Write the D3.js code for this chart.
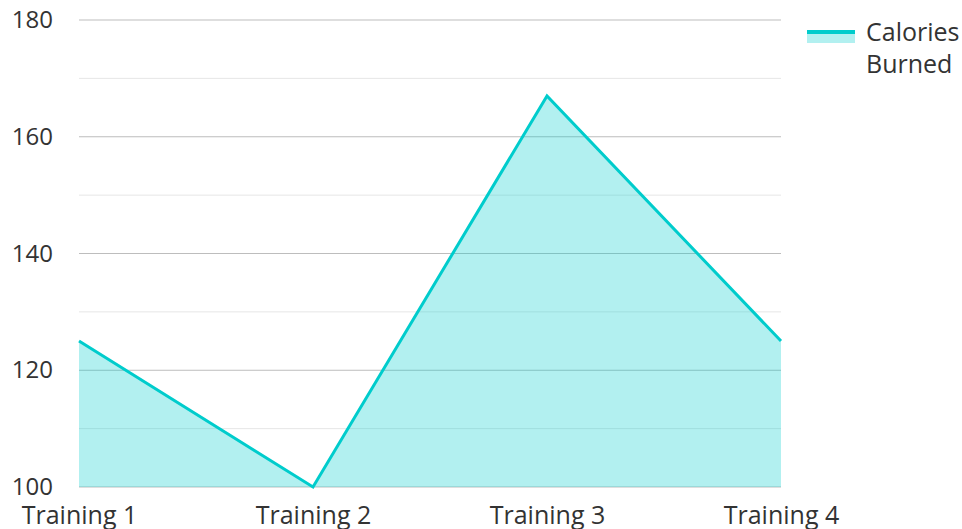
<!doctype html>
<html lang="en">
<head>
  <meta charset="utf-8">
  <title>Calories Burned - D3</title>
  <style>
    body { margin: 0; background: #fff; }
    svg { display: block; font-family: "Open Sans", "Noto Sans", sans-serif; }
  </style>
</head>
<body>
  <svg></svg>
  <script src="https://cdn.jsdelivr.net/npm/d3@7/dist/d3.min.js"></script>
  <script>
    // data
    var categories = ['Training 1', 'Training 2', 'Training 3', 'Training 4'];
    var calories = [125, 100, 167, 125];
    var yTicks = [100, 120, 140, 160, 180];
    var yMinorTicks = [110, 130, 150, 170];
    var seriesName = ['Calories', 'Burned'];

    var width = 962, height = 529;
    var plotLeft = 79, plotRight = 781, plotTop = 20, plotBottom = 487;
    var lineColor = '#00cccc';

    var svg = d3.select('svg').attr('width', width).attr('height', height);

    var x = d3.scalePoint().domain(categories).range([plotLeft, plotRight]);
    var y = d3.scaleLinear().domain([100, 180]).range([plotBottom, plotTop]);

    // grid (drawn under the translucent area)
    svg.append('g').selectAll('line').data(yMinorTicks).enter().append('line')
      .attr('x1', plotLeft).attr('x2', plotRight)
      .attr('y1', d => y(d)).attr('y2', d => y(d))
      .attr('stroke', '#e6e6e6').attr('stroke-width', 1);
    svg.append('g').selectAll('line').data(yTicks).enter().append('line')
      .attr('x1', plotLeft).attr('x2', plotRight)
      .attr('y1', d => y(d)).attr('y2', d => y(d))
      .attr('stroke', '#bdbdbd').attr('stroke-width', 1);

    // area + line
    var pts = categories.map((c, i) => ({ c: c, v: calories[i] }));
    svg.append('path').datum(pts)
      .attr('fill', lineColor).attr('fill-opacity', 0.3)
      .attr('d', d3.area().x(d => x(d.c)).y0(y(100)).y1(d => y(d.v)));
    svg.append('path').datum(pts)
      .attr('fill', 'none').attr('stroke', lineColor).attr('stroke-width', 3)
      .attr('d', d3.line().x(d => x(d.c)).y(d => y(d.v)));

    // y axis labels
    var yAxis = d3.axisLeft(y).tickValues(yTicks).tickSize(0).tickPadding(0);
    var gy = svg.append('g').attr('transform', 'translate(53,0)').call(yAxis);
    gy.select('.domain').remove();
    gy.selectAll('text').attr('font-size', 24).attr('fill', '#333')
      .attr('font-family', '"Open Sans", sans-serif');

    // x axis labels
    var xAxis = d3.axisBottom(x).tickSize(0).tickPadding(0);
    var gx = svg.append('g').attr('transform', 'translate(0,506)').call(xAxis);
    gx.select('.domain').remove();
    gx.selectAll('text').attr('font-size', 25).attr('fill', '#333')
      .attr('font-family', '"Open Sans", sans-serif');

    // legend
    var lg = svg.append('g');
    lg.append('rect').attr('x', 807).attr('y', 32).attr('width', 48).attr('height', 11)
      .attr('fill', lineColor).attr('fill-opacity', 0.3);
    lg.append('line').attr('x1', 807).attr('x2', 855).attr('y1', 32).attr('y2', 32)
      .attr('stroke', lineColor).attr('stroke-width', 4);
    lg.selectAll('text').data(seriesName).enter().append('text')
      .attr('x', 866).attr('y', (d, i) => 41 + i * 32)
      .attr('font-size', 25).attr('fill', '#333')
      .text(d => d);
  </script>
</body>
</html>
